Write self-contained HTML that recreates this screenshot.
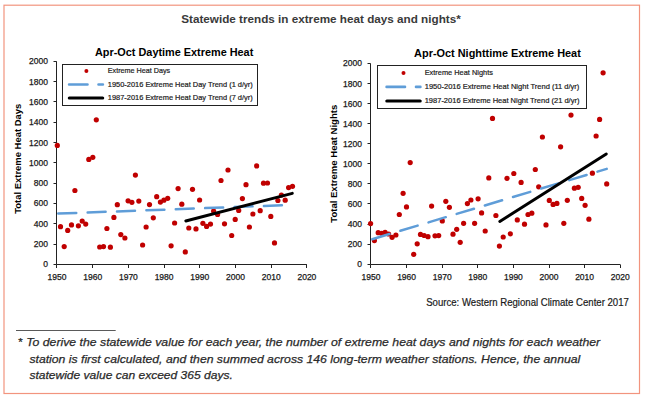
<!DOCTYPE html>
<html><head><meta charset="utf-8"><style>
html,body{margin:0;padding:0;background:#fff;}
body{width:645px;height:398px;overflow:hidden;position:relative;}
svg{position:absolute;left:0;top:0;}
text{font-family:"Liberation Sans",sans-serif;fill:#1a1a1a;}
.tk{font-size:8.5px;stroke:#1a1a1a;stroke-width:0.25px;}
.ct{font-size:10.7px;font-weight:bold;fill:#000;}
.yl{font-size:9.6px;font-weight:bold;fill:#000;}
.lg{font-size:7.9px;stroke:#1a1a1a;stroke-width:0.2px;}
.mt{font-size:11.5px;font-weight:bold;fill:#3a3a3a;}
.src{font-size:10.5px;fill:#1a1a1a;stroke:#1a1a1a;stroke-width:0.2px;}
.fn{font-size:11.6px;font-style:italic;fill:#2a2a2a;stroke:#2a2a2a;stroke-width:0.25px;}
</style></head><body>
<svg width="645" height="398" viewBox="0 0 645 398">
<rect x="4" y="5.2" width="635.5" height="388.3" fill="none" stroke="#f2947e" stroke-width="1.2"/>
<text x="181.2" y="23.1" class="mt" textLength="279.6" lengthAdjust="spacingAndGlyphs">Statewide trends in extreme heat days and nights*</text>
<path d="M56.5 61.3V264.5H306.9" fill="none" stroke="#222" stroke-width="1"/>
<path d="M53.5 264.5H56.5" stroke="#222" stroke-width="1"/>
<text x="47.9" y="267.3" text-anchor="end" class="tk">0</text>
<path d="M53.5 244.5H56.5" stroke="#222" stroke-width="1"/>
<text x="47.9" y="247.0" text-anchor="end" class="tk">200</text>
<path d="M53.5 223.5H56.5" stroke="#222" stroke-width="1"/>
<text x="47.9" y="226.7" text-anchor="end" class="tk">400</text>
<path d="M53.5 203.5H56.5" stroke="#222" stroke-width="1"/>
<text x="47.9" y="206.4" text-anchor="end" class="tk">600</text>
<path d="M53.5 183.5H56.5" stroke="#222" stroke-width="1"/>
<text x="47.9" y="186.1" text-anchor="end" class="tk">800</text>
<path d="M53.5 162.5H56.5" stroke="#222" stroke-width="1"/>
<text x="47.9" y="165.8" text-anchor="end" class="tk">1000</text>
<path d="M53.5 142.5H56.5" stroke="#222" stroke-width="1"/>
<text x="47.9" y="145.5" text-anchor="end" class="tk">1200</text>
<path d="M53.5 122.5H56.5" stroke="#222" stroke-width="1"/>
<text x="47.9" y="125.2" text-anchor="end" class="tk">1400</text>
<path d="M53.5 101.5H56.5" stroke="#222" stroke-width="1"/>
<text x="47.9" y="104.9" text-anchor="end" class="tk">1600</text>
<path d="M53.5 81.5H56.5" stroke="#222" stroke-width="1"/>
<text x="47.9" y="84.6" text-anchor="end" class="tk">1800</text>
<path d="M53.5 61.5H56.5" stroke="#222" stroke-width="1"/>
<text x="47.9" y="64.3" text-anchor="end" class="tk">2000</text>
<path d="M56.5 264.5V268.0" stroke="#222" stroke-width="1"/>
<text x="57.0" y="280.3" text-anchor="middle" class="tk">1950</text>
<path d="M92.5 264.5V268.0" stroke="#222" stroke-width="1"/>
<text x="92.7" y="280.3" text-anchor="middle" class="tk">1960</text>
<path d="M128.5 264.5V268.0" stroke="#222" stroke-width="1"/>
<text x="128.4" y="280.3" text-anchor="middle" class="tk">1970</text>
<path d="M164.5 264.5V268.0" stroke="#222" stroke-width="1"/>
<text x="164.1" y="280.3" text-anchor="middle" class="tk">1980</text>
<path d="M199.5 264.5V268.0" stroke="#222" stroke-width="1"/>
<text x="199.8" y="280.3" text-anchor="middle" class="tk">1990</text>
<path d="M235.5 264.5V268.0" stroke="#222" stroke-width="1"/>
<text x="235.5" y="280.3" text-anchor="middle" class="tk">2000</text>
<path d="M271.5 264.5V268.0" stroke="#222" stroke-width="1"/>
<text x="271.2" y="280.3" text-anchor="middle" class="tk">2010</text>
<path d="M306.5 264.5V268.0" stroke="#222" stroke-width="1"/>
<text x="306.9" y="280.3" text-anchor="middle" class="tk">2020</text>
<text x="95.0" y="55.9" class="ct" textLength="158.3" lengthAdjust="spacingAndGlyphs">Apr-Oct Daytime Extreme Heat</text>
<text transform="translate(21.3,213.7) rotate(-90)" x="0" y="0" class="yl" textLength="109.89999999999999" lengthAdjust="spacingAndGlyphs">Total Extreme Heat Days</text>
<circle cx="57.3" cy="145.4" r="2.6" fill="#c00000"/>
<circle cx="60.5" cy="226.7" r="2.6" fill="#c00000"/>
<circle cx="64.2" cy="246.6" r="2.6" fill="#c00000"/>
<circle cx="67.7" cy="230.4" r="2.6" fill="#c00000"/>
<circle cx="71.5" cy="224.9" r="2.6" fill="#c00000"/>
<circle cx="74.9" cy="190.5" r="2.6" fill="#c00000"/>
<circle cx="78.4" cy="225.8" r="2.6" fill="#c00000"/>
<circle cx="82.2" cy="221.1" r="2.6" fill="#c00000"/>
<circle cx="85.7" cy="224.1" r="2.6" fill="#c00000"/>
<circle cx="88.8" cy="159.4" r="2.6" fill="#c00000"/>
<circle cx="92.8" cy="157.3" r="2.6" fill="#c00000"/>
<circle cx="96.3" cy="119.8" r="2.6" fill="#c00000"/>
<circle cx="99.7" cy="247" r="2.6" fill="#c00000"/>
<circle cx="103.5" cy="246.6" r="2.6" fill="#c00000"/>
<circle cx="106.9" cy="228.5" r="2.6" fill="#c00000"/>
<circle cx="110.4" cy="247.2" r="2.6" fill="#c00000"/>
<circle cx="113.9" cy="217.4" r="2.6" fill="#c00000"/>
<circle cx="117.3" cy="204.7" r="2.6" fill="#c00000"/>
<circle cx="120.8" cy="234.6" r="2.6" fill="#c00000"/>
<circle cx="124.9" cy="238" r="2.6" fill="#c00000"/>
<circle cx="128.1" cy="200.8" r="2.6" fill="#c00000"/>
<circle cx="131.9" cy="202.3" r="2.6" fill="#c00000"/>
<circle cx="135.4" cy="175.1" r="2.6" fill="#c00000"/>
<circle cx="138.8" cy="201.1" r="2.6" fill="#c00000"/>
<circle cx="142.6" cy="245" r="2.6" fill="#c00000"/>
<circle cx="146.1" cy="227" r="2.6" fill="#c00000"/>
<circle cx="149.5" cy="204.6" r="2.6" fill="#c00000"/>
<circle cx="153.3" cy="217.8" r="2.6" fill="#c00000"/>
<circle cx="156.7" cy="196.7" r="2.6" fill="#c00000"/>
<circle cx="160.4" cy="202.1" r="2.6" fill="#c00000"/>
<circle cx="163.9" cy="200.2" r="2.6" fill="#c00000"/>
<circle cx="167.7" cy="198.3" r="2.6" fill="#c00000"/>
<circle cx="171.1" cy="245.8" r="2.6" fill="#c00000"/>
<circle cx="174.6" cy="223" r="2.6" fill="#c00000"/>
<circle cx="178.1" cy="188.6" r="2.6" fill="#c00000"/>
<circle cx="181.8" cy="204.2" r="2.6" fill="#c00000"/>
<circle cx="185.3" cy="251.9" r="2.6" fill="#c00000"/>
<circle cx="188.8" cy="228" r="2.6" fill="#c00000"/>
<circle cx="192.5" cy="189.3" r="2.6" fill="#c00000"/>
<circle cx="196" cy="228.9" r="2.6" fill="#c00000"/>
<circle cx="199.6" cy="200" r="2.6" fill="#c00000"/>
<circle cx="202.9" cy="223.3" r="2.6" fill="#c00000"/>
<circle cx="206.6" cy="226.4" r="2.6" fill="#c00000"/>
<circle cx="210.5" cy="224.1" r="2.6" fill="#c00000"/>
<circle cx="213.6" cy="211" r="2.6" fill="#c00000"/>
<circle cx="217.6" cy="214.4" r="2.6" fill="#c00000"/>
<circle cx="221" cy="180.5" r="2.6" fill="#c00000"/>
<circle cx="224.5" cy="223.8" r="2.6" fill="#c00000"/>
<circle cx="228" cy="170" r="2.6" fill="#c00000"/>
<circle cx="231.7" cy="235.5" r="2.6" fill="#c00000"/>
<circle cx="235.2" cy="219.4" r="2.6" fill="#c00000"/>
<circle cx="238.7" cy="210.4" r="2.6" fill="#c00000"/>
<circle cx="242.4" cy="198.6" r="2.6" fill="#c00000"/>
<circle cx="246" cy="184.7" r="2.6" fill="#c00000"/>
<circle cx="249.4" cy="227" r="2.6" fill="#c00000"/>
<circle cx="252.9" cy="214" r="2.6" fill="#c00000"/>
<circle cx="256.6" cy="165.9" r="2.6" fill="#c00000"/>
<circle cx="260.2" cy="210.7" r="2.6" fill="#c00000"/>
<circle cx="263.5" cy="183.2" r="2.6" fill="#c00000"/>
<circle cx="267.5" cy="183" r="2.6" fill="#c00000"/>
<circle cx="270.8" cy="216.4" r="2.6" fill="#c00000"/>
<circle cx="274.5" cy="242.9" r="2.6" fill="#c00000"/>
<circle cx="277.9" cy="200.5" r="2.6" fill="#c00000"/>
<circle cx="281.4" cy="195.1" r="2.6" fill="#c00000"/>
<circle cx="285.2" cy="200.2" r="2.6" fill="#c00000"/>
<circle cx="288.6" cy="187.6" r="2.6" fill="#c00000"/>
<circle cx="292.5" cy="186.3" r="2.6" fill="#c00000"/>
<path d="M58.25 213.55L289.50 205.00" stroke="#5f9dd8" stroke-width="2.5" stroke-linecap="round" stroke-dasharray="18 11.4" fill="none"/>
<path d="M185.8 221.0L292.3 193.3" stroke="#000" stroke-width="2.9" stroke-linecap="round" fill="none"/>
<rect x="62.5" y="64.5" width="195.0" height="41.0" fill="#fff" stroke="#222" stroke-width="1"/>
<circle cx="86.4" cy="70.9" r="2" fill="#c00000"/>
<path d="M69.1 84.5H87.5M98.5 84.5H102.9" stroke="#5f9dd8" stroke-width="2.6" stroke-linecap="round"/>
<path d="M69.3 98.0H102.69999999999999" stroke="#000" stroke-width="3.1" stroke-linecap="round"/>
<text x="107.8" y="73.0" class="lg" textLength="62.39999999999999" lengthAdjust="spacingAndGlyphs">Extreme Heat Days</text>
<text x="107.8" y="86.6" class="lg" textLength="144.89999999999998" lengthAdjust="spacingAndGlyphs">1950-2016 Extreme Heat Day Trend (1 d/yr)</text>
<text x="107.8" y="100.1" class="lg" textLength="144.89999999999998" lengthAdjust="spacingAndGlyphs">1987-2016 Extreme Heat Day Trend (7 d/yr)</text>
<path d="M370.5 63.4V264.5H620.2" fill="none" stroke="#222" stroke-width="1"/>
<path d="M367.5 264.5H370.5" stroke="#222" stroke-width="1"/>
<text x="361.9" y="267.2" text-anchor="end" class="tk">0</text>
<path d="M367.5 244.5H370.5" stroke="#222" stroke-width="1"/>
<text x="361.9" y="247.1" text-anchor="end" class="tk">200</text>
<path d="M367.5 224.5H370.5" stroke="#222" stroke-width="1"/>
<text x="361.9" y="227.0" text-anchor="end" class="tk">400</text>
<path d="M367.5 203.5H370.5" stroke="#222" stroke-width="1"/>
<text x="361.9" y="207.0" text-anchor="end" class="tk">600</text>
<path d="M367.5 183.5H370.5" stroke="#222" stroke-width="1"/>
<text x="361.9" y="186.9" text-anchor="end" class="tk">800</text>
<path d="M367.5 163.5H370.5" stroke="#222" stroke-width="1"/>
<text x="361.9" y="166.8" text-anchor="end" class="tk">1000</text>
<path d="M367.5 143.5H370.5" stroke="#222" stroke-width="1"/>
<text x="361.9" y="146.7" text-anchor="end" class="tk">1200</text>
<path d="M367.5 123.5H370.5" stroke="#222" stroke-width="1"/>
<text x="361.9" y="126.6" text-anchor="end" class="tk">1400</text>
<path d="M367.5 103.5H370.5" stroke="#222" stroke-width="1"/>
<text x="361.9" y="106.6" text-anchor="end" class="tk">1600</text>
<path d="M367.5 83.5H370.5" stroke="#222" stroke-width="1"/>
<text x="361.9" y="86.5" text-anchor="end" class="tk">1800</text>
<path d="M367.5 63.5H370.5" stroke="#222" stroke-width="1"/>
<text x="361.9" y="66.4" text-anchor="end" class="tk">2000</text>
<path d="M370.5 264.5V268.0" stroke="#222" stroke-width="1"/>
<text x="371.0" y="280.2" text-anchor="middle" class="tk">1950</text>
<path d="M406.5 264.5V268.0" stroke="#222" stroke-width="1"/>
<text x="406.6" y="280.2" text-anchor="middle" class="tk">1960</text>
<path d="M442.5 264.5V268.0" stroke="#222" stroke-width="1"/>
<text x="442.2" y="280.2" text-anchor="middle" class="tk">1970</text>
<path d="M477.5 264.5V268.0" stroke="#222" stroke-width="1"/>
<text x="477.8" y="280.2" text-anchor="middle" class="tk">1980</text>
<path d="M513.5 264.5V268.0" stroke="#222" stroke-width="1"/>
<text x="513.4" y="280.2" text-anchor="middle" class="tk">1990</text>
<path d="M549.5 264.5V268.0" stroke="#222" stroke-width="1"/>
<text x="549.0" y="280.2" text-anchor="middle" class="tk">2000</text>
<path d="M584.5 264.5V268.0" stroke="#222" stroke-width="1"/>
<text x="584.6" y="280.2" text-anchor="middle" class="tk">2010</text>
<path d="M620.5 264.5V268.0" stroke="#222" stroke-width="1"/>
<text x="620.2" y="280.2" text-anchor="middle" class="tk">2020</text>
<text x="414.1" y="57.0" class="ct" textLength="166.69999999999993" lengthAdjust="spacingAndGlyphs">Apr-Oct Nighttime Extreme Heat</text>
<text transform="translate(336.7,222.7) rotate(-90)" x="0" y="0" class="yl" textLength="117.89999999999999" lengthAdjust="spacingAndGlyphs">Total Extreme Heat Nights</text>
<circle cx="370.6" cy="223.6" r="2.6" fill="#c00000"/>
<circle cx="374.4" cy="240.6" r="2.6" fill="#c00000"/>
<circle cx="378.2" cy="232.7" r="2.6" fill="#c00000"/>
<circle cx="381.7" cy="233.3" r="2.6" fill="#c00000"/>
<circle cx="385.1" cy="232.3" r="2.6" fill="#c00000"/>
<circle cx="388.6" cy="234" r="2.6" fill="#c00000"/>
<circle cx="392.1" cy="237.3" r="2.6" fill="#c00000"/>
<circle cx="395.9" cy="235" r="2.6" fill="#c00000"/>
<circle cx="399.3" cy="214.5" r="2.6" fill="#c00000"/>
<circle cx="403.1" cy="193.3" r="2.6" fill="#c00000"/>
<circle cx="406.5" cy="206.9" r="2.6" fill="#c00000"/>
<circle cx="410.2" cy="162.6" r="2.6" fill="#c00000"/>
<circle cx="413.7" cy="254.3" r="2.6" fill="#c00000"/>
<circle cx="417.2" cy="243.8" r="2.6" fill="#c00000"/>
<circle cx="420.5" cy="234.4" r="2.6" fill="#c00000"/>
<circle cx="424.2" cy="235.5" r="2.6" fill="#c00000"/>
<circle cx="428" cy="236.7" r="2.6" fill="#c00000"/>
<circle cx="431.6" cy="206.1" r="2.6" fill="#c00000"/>
<circle cx="435" cy="235.8" r="2.6" fill="#c00000"/>
<circle cx="438.7" cy="235.6" r="2.6" fill="#c00000"/>
<circle cx="442.3" cy="220.9" r="2.6" fill="#c00000"/>
<circle cx="445.8" cy="201.3" r="2.6" fill="#c00000"/>
<circle cx="449.4" cy="207.3" r="2.6" fill="#c00000"/>
<circle cx="453" cy="234.2" r="2.6" fill="#c00000"/>
<circle cx="456.7" cy="229.3" r="2.6" fill="#c00000"/>
<circle cx="460.2" cy="242.3" r="2.6" fill="#c00000"/>
<circle cx="463.6" cy="223.3" r="2.6" fill="#c00000"/>
<circle cx="467.4" cy="203.6" r="2.6" fill="#c00000"/>
<circle cx="470.9" cy="200" r="2.6" fill="#c00000"/>
<circle cx="474.6" cy="223.3" r="2.6" fill="#c00000"/>
<circle cx="478.1" cy="198.8" r="2.6" fill="#c00000"/>
<circle cx="481.6" cy="212.9" r="2.6" fill="#c00000"/>
<circle cx="485.2" cy="231" r="2.6" fill="#c00000"/>
<circle cx="488.8" cy="177.9" r="2.6" fill="#c00000"/>
<circle cx="492.5" cy="118.4" r="2.6" fill="#c00000"/>
<circle cx="495.9" cy="215.5" r="2.6" fill="#c00000"/>
<circle cx="499.4" cy="246.1" r="2.6" fill="#c00000"/>
<circle cx="503.2" cy="237" r="2.6" fill="#c00000"/>
<circle cx="507" cy="178.3" r="2.6" fill="#c00000"/>
<circle cx="510.3" cy="233.8" r="2.6" fill="#c00000"/>
<circle cx="513.8" cy="173.5" r="2.6" fill="#c00000"/>
<circle cx="517.3" cy="219.9" r="2.6" fill="#c00000"/>
<circle cx="521.1" cy="182.4" r="2.6" fill="#c00000"/>
<circle cx="524.5" cy="224.2" r="2.6" fill="#c00000"/>
<circle cx="528" cy="214.5" r="2.6" fill="#c00000"/>
<circle cx="531.8" cy="213.2" r="2.6" fill="#c00000"/>
<circle cx="535.3" cy="169.5" r="2.6" fill="#c00000"/>
<circle cx="538.7" cy="186.8" r="2.6" fill="#c00000"/>
<circle cx="542.4" cy="137" r="2.6" fill="#c00000"/>
<circle cx="546" cy="224.9" r="2.6" fill="#c00000"/>
<circle cx="549.3" cy="200.4" r="2.6" fill="#c00000"/>
<circle cx="553.1" cy="204.4" r="2.6" fill="#c00000"/>
<circle cx="556.9" cy="203.4" r="2.6" fill="#c00000"/>
<circle cx="560.6" cy="146.8" r="2.6" fill="#c00000"/>
<circle cx="563.8" cy="223.3" r="2.6" fill="#c00000"/>
<circle cx="567.3" cy="200.3" r="2.6" fill="#c00000"/>
<circle cx="571" cy="115.1" r="2.6" fill="#c00000"/>
<circle cx="574.4" cy="188.2" r="2.6" fill="#c00000"/>
<circle cx="578.2" cy="187.3" r="2.6" fill="#c00000"/>
<circle cx="581.7" cy="198.4" r="2.6" fill="#c00000"/>
<circle cx="585.1" cy="205.3" r="2.6" fill="#c00000"/>
<circle cx="588.9" cy="219.2" r="2.6" fill="#c00000"/>
<circle cx="592.4" cy="173.2" r="2.6" fill="#c00000"/>
<circle cx="596.1" cy="136" r="2.6" fill="#c00000"/>
<circle cx="599.6" cy="119.4" r="2.6" fill="#c00000"/>
<circle cx="603.1" cy="72.8" r="2.6" fill="#c00000"/>
<circle cx="606.7" cy="183.9" r="2.6" fill="#c00000"/>
<path d="M372.20 239.24L606.70 168.90" stroke="#5f9dd8" stroke-width="2.5" stroke-linecap="round" stroke-dasharray="18 11.4" fill="none"/>
<path d="M499.8 221.4L606.3 154.0" stroke="#000" stroke-width="2.9" stroke-linecap="round" fill="none"/>
<rect x="377.5" y="65.5" width="209.0" height="43.0" fill="#fff" stroke="#222" stroke-width="1"/>
<circle cx="403.5" cy="72.9" r="2" fill="#c00000"/>
<path d="M386.6 86.9H405.0M416.0 86.9H420.40000000000003" stroke="#5f9dd8" stroke-width="2.6" stroke-linecap="round"/>
<path d="M386.8 101.0H420.2" stroke="#000" stroke-width="3.1" stroke-linecap="round"/>
<text x="424.7" y="75.0" class="lg" textLength="68.19999999999999" lengthAdjust="spacingAndGlyphs">Extreme Heat Nights</text>
<text x="424.7" y="89.0" class="lg" textLength="154.7" lengthAdjust="spacingAndGlyphs">1950-2016 Extreme Heat Night Trend (11 d/yr)</text>
<text x="424.7" y="103.1" class="lg" textLength="154.7" lengthAdjust="spacingAndGlyphs">1987-2016 Extreme Heat Night Trend (21 d/yr)</text>
<text x="426.2" y="305.5" class="src" textLength="202.7" lengthAdjust="spacingAndGlyphs">Source: Western Regional Climate Center 2017</text>
<path d="M16 330.5H115.7" stroke="#5a5a5a" stroke-width="1"/>
<text x="17.7" y="346.2" class="fn">*</text>
<text x="26.2" y="346.2" class="fn" textLength="574.0" lengthAdjust="spacingAndGlyphs">To derive the statewide value for each year, the number of extreme heat days and nights for each weather</text>
<text x="29.4" y="363.1" class="fn" textLength="550.9" lengthAdjust="spacingAndGlyphs">station is first calculated, and then summed across 146 long-term weather stations. Hence, the annual</text>
<text x="29.4" y="379.1" class="fn" textLength="203.4" lengthAdjust="spacingAndGlyphs">statewide value can exceed 365 days.</text>
</svg>
</body></html>
